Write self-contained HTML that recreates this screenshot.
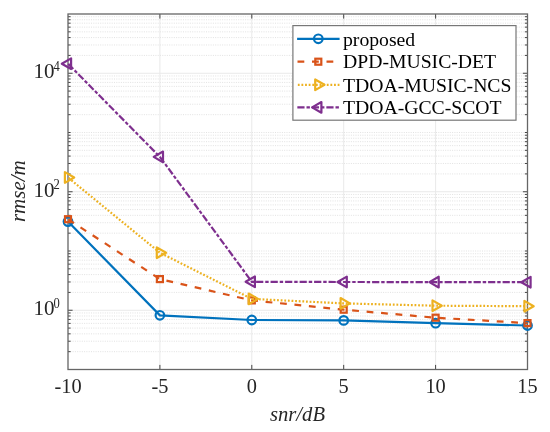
<!DOCTYPE html><html><head><meta charset="utf-8"><style>html,body{margin:0;padding:0;background:#fff;}svg{display:block;}</style></head><body><svg width="550" height="432" viewBox="0 0 550 432">
<rect width="550" height="432" fill="#fff"/>
<path d="M68.00 351.66H527.50M68.00 341.23H527.50M68.00 333.83H527.50M68.00 328.09H527.50M68.00 323.39H527.50M68.00 319.43H527.50M68.00 315.99H527.50M68.00 312.96H527.50M68.00 292.41H527.50M68.00 281.98H527.50M68.00 274.58H527.50M68.00 268.84H527.50M68.00 264.14H527.50M68.00 260.18H527.50M68.00 256.74H527.50M68.00 253.71H527.50M68.00 233.16H527.50M68.00 222.73H527.50M68.00 215.33H527.50M68.00 209.59H527.50M68.00 204.89H527.50M68.00 200.93H527.50M68.00 197.49H527.50M68.00 194.46H527.50M68.00 251.00H527.50M68.00 173.91H527.50M68.00 163.48H527.50M68.00 156.08H527.50M68.00 150.34H527.50M68.00 145.64H527.50M68.00 141.68H527.50M68.00 138.24H527.50M68.00 135.21H527.50M68.00 114.66H527.50M68.00 104.23H527.50M68.00 96.83H527.50M68.00 91.09H527.50M68.00 86.39H527.50M68.00 82.43H527.50M68.00 78.99H527.50M68.00 75.96H527.50M68.00 132.50H527.50M68.00 55.41H527.50M68.00 44.98H527.50M68.00 37.58H527.50M68.00 31.84H527.50M68.00 27.14H527.50M68.00 23.18H527.50M68.00 19.74H527.50M68.00 16.71H527.50" stroke="#dadada" stroke-width="0.8" stroke-dasharray="1 1.3" fill="none"/>
<path d="M159.90 14.00V369.50M251.80 14.00V369.50M343.70 14.00V369.50M435.60 14.00V369.50M68.00 310.25H527.50M68.00 191.75H527.50M68.00 73.25H527.50" stroke="#e9e9e9" stroke-width="1" fill="none"/>
<path d="M159.90 369.50v-4.6M159.90 14.00v4.6M251.80 369.50v-4.6M251.80 14.00v4.6M343.70 369.50v-4.6M343.70 14.00v4.6M435.60 369.50v-4.6M435.60 14.00v4.6M68.00 351.66h2.6M527.50 351.66h-2.6M68.00 341.23h2.6M527.50 341.23h-2.6M68.00 333.83h2.6M527.50 333.83h-2.6M68.00 328.09h2.6M527.50 328.09h-2.6M68.00 323.39h2.6M527.50 323.39h-2.6M68.00 319.43h2.6M527.50 319.43h-2.6M68.00 315.99h2.6M527.50 315.99h-2.6M68.00 312.96h2.6M527.50 312.96h-2.6M68.00 310.25h4.6M527.50 310.25h-4.6M68.00 292.41h2.6M527.50 292.41h-2.6M68.00 281.98h2.6M527.50 281.98h-2.6M68.00 274.58h2.6M527.50 274.58h-2.6M68.00 268.84h2.6M527.50 268.84h-2.6M68.00 264.14h2.6M527.50 264.14h-2.6M68.00 260.18h2.6M527.50 260.18h-2.6M68.00 256.74h2.6M527.50 256.74h-2.6M68.00 253.71h2.6M527.50 253.71h-2.6M68.00 251.00h2.6M527.50 251.00h-2.6M68.00 233.16h2.6M527.50 233.16h-2.6M68.00 222.73h2.6M527.50 222.73h-2.6M68.00 215.33h2.6M527.50 215.33h-2.6M68.00 209.59h2.6M527.50 209.59h-2.6M68.00 204.89h2.6M527.50 204.89h-2.6M68.00 200.93h2.6M527.50 200.93h-2.6M68.00 197.49h2.6M527.50 197.49h-2.6M68.00 194.46h2.6M527.50 194.46h-2.6M68.00 191.75h4.6M527.50 191.75h-4.6M68.00 173.91h2.6M527.50 173.91h-2.6M68.00 163.48h2.6M527.50 163.48h-2.6M68.00 156.08h2.6M527.50 156.08h-2.6M68.00 150.34h2.6M527.50 150.34h-2.6M68.00 145.64h2.6M527.50 145.64h-2.6M68.00 141.68h2.6M527.50 141.68h-2.6M68.00 138.24h2.6M527.50 138.24h-2.6M68.00 135.21h2.6M527.50 135.21h-2.6M68.00 132.50h2.6M527.50 132.50h-2.6M68.00 114.66h2.6M527.50 114.66h-2.6M68.00 104.23h2.6M527.50 104.23h-2.6M68.00 96.83h2.6M527.50 96.83h-2.6M68.00 91.09h2.6M527.50 91.09h-2.6M68.00 86.39h2.6M527.50 86.39h-2.6M68.00 82.43h2.6M527.50 82.43h-2.6M68.00 78.99h2.6M527.50 78.99h-2.6M68.00 75.96h2.6M527.50 75.96h-2.6M68.00 73.25h4.6M527.50 73.25h-4.6M68.00 55.41h2.6M527.50 55.41h-2.6M68.00 44.98h2.6M527.50 44.98h-2.6M68.00 37.58h2.6M527.50 37.58h-2.6M68.00 31.84h2.6M527.50 31.84h-2.6M68.00 27.14h2.6M527.50 27.14h-2.6M68.00 23.18h2.6M527.50 23.18h-2.6M68.00 19.74h2.6M527.50 19.74h-2.6M68.00 16.71h2.6M527.50 16.71h-2.6" stroke="#444" stroke-width="1" fill="none"/>
<rect x="68.00" y="14.00" width="459.50" height="355.50" stroke="#666" stroke-width="1.3" fill="none"/>
<g clip-path="none">
<polyline points="68.00,221.60 159.90,315.30 251.80,320.00 343.70,320.40 435.60,323.20 527.50,325.50" stroke="#0072BD" stroke-width="2.2" fill="none"/>
<circle cx="68.00" cy="221.60" r="4.3" stroke="#0072BD" stroke-width="2.2" fill="none"/>
<circle cx="159.90" cy="315.30" r="4.3" stroke="#0072BD" stroke-width="2.2" fill="none"/>
<circle cx="251.80" cy="320.00" r="4.3" stroke="#0072BD" stroke-width="2.2" fill="none"/>
<circle cx="343.70" cy="320.40" r="4.3" stroke="#0072BD" stroke-width="2.2" fill="none"/>
<circle cx="435.60" cy="323.20" r="4.3" stroke="#0072BD" stroke-width="2.2" fill="none"/>
<circle cx="527.50" cy="325.50" r="4.3" stroke="#0072BD" stroke-width="2.2" fill="none"/>
<polyline points="68.00,219.20 159.90,279.10 251.80,300.40 343.70,309.70 435.60,317.70 527.50,323.10" stroke="#D95319" stroke-width="2.2" fill="none" stroke-dasharray="6.8 7.7" stroke-dashoffset="-0.4"/>
<rect x="65.00" y="216.20" width="6.00" height="6.00" stroke="#D95319" stroke-width="2.2" fill="none"/>
<rect x="156.90" y="276.10" width="6.00" height="6.00" stroke="#D95319" stroke-width="2.2" fill="none"/>
<rect x="248.80" y="297.40" width="6.00" height="6.00" stroke="#D95319" stroke-width="2.2" fill="none"/>
<rect x="340.70" y="306.70" width="6.00" height="6.00" stroke="#D95319" stroke-width="2.2" fill="none"/>
<rect x="432.60" y="314.70" width="6.00" height="6.00" stroke="#D95319" stroke-width="2.2" fill="none"/>
<rect x="524.50" y="320.10" width="6.00" height="6.00" stroke="#D95319" stroke-width="2.2" fill="none"/>
<polyline points="68.00,177.50 159.90,252.70 251.80,298.90 343.70,303.40 435.60,305.70 527.50,306.20" stroke="#EDB120" stroke-width="2.2" fill="none" stroke-dasharray="1.8 1.82" stroke-dashoffset="-0.74"/>
<polygon points="74.20,177.50 64.90,172.13 64.90,182.87" stroke="#EDB120" stroke-width="2.2" fill="none" stroke-linejoin="round"/>
<polygon points="166.10,252.70 156.80,247.33 156.80,258.07" stroke="#EDB120" stroke-width="2.2" fill="none" stroke-linejoin="round"/>
<polygon points="258.00,298.90 248.70,293.53 248.70,304.27" stroke="#EDB120" stroke-width="2.2" fill="none" stroke-linejoin="round"/>
<polygon points="349.90,303.40 340.60,298.03 340.60,308.77" stroke="#EDB120" stroke-width="2.2" fill="none" stroke-linejoin="round"/>
<polygon points="441.80,305.70 432.50,300.33 432.50,311.07" stroke="#EDB120" stroke-width="2.2" fill="none" stroke-linejoin="round"/>
<polygon points="533.70,306.20 524.40,300.83 524.40,311.57" stroke="#EDB120" stroke-width="2.2" fill="none" stroke-linejoin="round"/>
<polyline points="68.00,63.70 159.90,156.90 251.80,281.80 343.70,282.00 435.60,282.10 527.50,282.20" stroke="#7E2F8E" stroke-width="2.2" fill="none" stroke-dasharray="7.2 1.95 3.4 1.95" stroke-dashoffset="-0.25"/>
<polygon points="61.80,63.70 71.10,58.33 71.10,69.07" stroke="#7E2F8E" stroke-width="2.2" fill="none" stroke-linejoin="round"/>
<polygon points="153.70,156.90 163.00,151.53 163.00,162.27" stroke="#7E2F8E" stroke-width="2.2" fill="none" stroke-linejoin="round"/>
<polygon points="245.60,281.80 254.90,276.43 254.90,287.17" stroke="#7E2F8E" stroke-width="2.2" fill="none" stroke-linejoin="round"/>
<polygon points="337.50,282.00 346.80,276.63 346.80,287.37" stroke="#7E2F8E" stroke-width="2.2" fill="none" stroke-linejoin="round"/>
<polygon points="429.40,282.10 438.70,276.73 438.70,287.47" stroke="#7E2F8E" stroke-width="2.2" fill="none" stroke-linejoin="round"/>
<polygon points="521.30,282.20 530.60,276.83 530.60,287.57" stroke="#7E2F8E" stroke-width="2.2" fill="none" stroke-linejoin="round"/>
</g>
<text transform="translate(68.00 393.4) scale(0.985 1)" font-size="20.7" text-anchor="middle" fill="#262626" font-family="Liberation Serif, serif">-10</text>
<text transform="translate(159.90 393.4) scale(0.985 1)" font-size="20.7" text-anchor="middle" fill="#262626" font-family="Liberation Serif, serif">-5</text>
<text transform="translate(251.80 393.4) scale(0.985 1)" font-size="20.7" text-anchor="middle" fill="#262626" font-family="Liberation Serif, serif">0</text>
<text transform="translate(343.70 393.4) scale(0.985 1)" font-size="20.7" text-anchor="middle" fill="#262626" font-family="Liberation Serif, serif">5</text>
<text transform="translate(435.60 393.4) scale(0.985 1)" font-size="20.7" text-anchor="middle" fill="#262626" font-family="Liberation Serif, serif">10</text>
<text transform="translate(527.50 393.4) scale(0.985 1)" font-size="20.7" text-anchor="middle" fill="#262626" font-family="Liberation Serif, serif">15</text>
<text transform="translate(33.4 315.35) scale(1.025 1)" font-size="20.5" fill="#262626" font-family="Liberation Serif, serif">10</text>
<text transform="translate(53.5 307.85) scale(0.9 1)" font-size="14" fill="#262626" font-family="Liberation Serif, serif">0</text>
<text transform="translate(33.4 196.85) scale(1.025 1)" font-size="20.5" fill="#262626" font-family="Liberation Serif, serif">10</text>
<text transform="translate(53.5 189.35) scale(0.9 1)" font-size="14" fill="#262626" font-family="Liberation Serif, serif">2</text>
<text transform="translate(33.4 78.35) scale(1.025 1)" font-size="20.5" fill="#262626" font-family="Liberation Serif, serif">10</text>
<text transform="translate(53.5 70.85) scale(0.9 1)" font-size="14" fill="#262626" font-family="Liberation Serif, serif">4</text>
<text x="297.5" y="420.5" font-size="20.6" text-anchor="middle" fill="#262626" font-style="italic" font-family="Liberation Serif, serif">snr/dB</text>
<text transform="translate(25.0 191.2) rotate(-90)" font-size="21" text-anchor="middle" fill="#262626" font-style="italic" font-family="Liberation Serif, serif">rmse/m</text>
<rect x="292.9" y="25.6" width="223.10" height="94.60" fill="#fff" stroke="#777" stroke-width="1.2"/>
<path d="M297.1 38.8H339.6" stroke="#0072BD" stroke-width="2.2" fill="none"/>
<circle cx="318.30" cy="38.80" r="4.3" stroke="#0072BD" stroke-width="2.2" fill="none"/>
<text x="343" y="45.50" font-size="19.7" fill="#000" font-family="Liberation Serif, serif">proposed</text>
<path d="M297.1 61.7H339.6" stroke="#D95319" stroke-width="2.2" fill="none" stroke-dasharray="6.8 7.7" stroke-dashoffset="-0.4"/>
<rect x="315.30" y="58.70" width="6.00" height="6.00" stroke="#D95319" stroke-width="2.2" fill="none"/>
<text x="343" y="68.40" font-size="19.7" fill="#000" font-family="Liberation Serif, serif">DPD-MUSIC-DET</text>
<path d="M297.1 84.8H339.6" stroke="#EDB120" stroke-width="2.2" fill="none" stroke-dasharray="1.8 1.82" stroke-dashoffset="-0.74"/>
<polygon points="324.50,84.80 315.20,79.43 315.20,90.17" stroke="#EDB120" stroke-width="2.2" fill="none" stroke-linejoin="round"/>
<text x="343" y="91.50" font-size="19.7" fill="#000" font-family="Liberation Serif, serif">TDOA-MUSIC-NCS</text>
<path d="M297.1 107.4H339.6" stroke="#7E2F8E" stroke-width="2.2" fill="none" stroke-dasharray="7.2 1.95 3.4 1.95" stroke-dashoffset="-0.25"/>
<polygon points="312.10,107.40 321.40,102.03 321.40,112.77" stroke="#7E2F8E" stroke-width="2.2" fill="none" stroke-linejoin="round"/>
<text x="343" y="114.10" font-size="19.7" fill="#000" font-family="Liberation Serif, serif">TDOA-GCC-SCOT</text>
</svg></body></html>
